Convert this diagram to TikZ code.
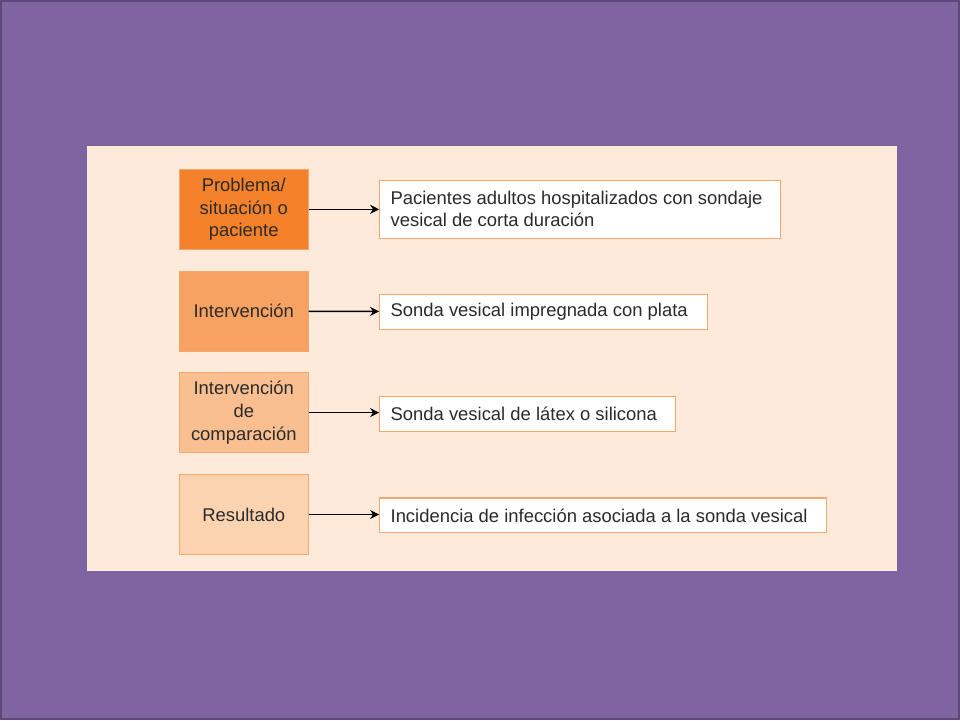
\documentclass[tikz,border=0pt]{standalone}
\usepackage{fontspec}
\setmainfont{Liberation Sans}
\usetikzlibrary{arrows.meta}
\definecolor{fondo}{HTML}{8064A2}
\definecolor{marco}{HTML}{5E4A7A}
\definecolor{panel}{HTML}{FDEADA}
\definecolor{naranjaA}{HTML}{F5822A}
\definecolor{naranjaB}{HTML}{F7A262}
\definecolor{naranjaC}{HTML}{F9BF90}
\definecolor{naranjaD}{HTML}{FBD3B1}
\definecolor{borde}{HTML}{F6A86C}
\definecolor{texto}{HTML}{2B2B2B}
\begin{document}
\begin{tikzpicture}[x=0.02cm, y=-0.02cm,
    campo/.style={rectangle, draw=borde, line width=0.6pt, minimum width=2.58cm, minimum height=1.6cm, align=center, text=texto, font=\fontsize{10.5}{13}\selectfont},
    dato/.style={rectangle, draw=borde, fill=white, line width=0.6pt, anchor=west, inner xsep=0.22cm, align=flush left, text=texto, font=\fontsize{10.5}{12.5}\selectfont},
    arrow/.style={->, >={Stealth[length=1.8mm, width=1.8mm]}, line width=0.8pt}
]
    % Fondo
    \fill[fondo] (0,0) rectangle (960,720);
    \draw[marco, line width=1.2pt] (0.5,0.5) rectangle (959.5,719.5);
    \fill[panel] (87,146) rectangle (897,571);

    % Categorias
    \node[campo, fill=naranjaA] (problema) at (243.5,209) {Problema/\\situación o\\paciente};
    \node[campo, fill=naranjaB] (intervencion) at (243.5,311) {Intervención};
    \node[campo, fill=naranjaC] (comparacion) at (243.5,412.5) {Intervención\\de\\comparación};
    \node[campo, fill=naranjaD] (resultado) at (243.5,514.5) {Resultado};

    % Contenidos
    \node[dato, minimum height=1.16cm, text width=7.58cm] (pacientes) at (379,209) {Pacientes adultos hospitalizados con sondaje\\vesical de corta duración};
    \node[dato, minimum height=0.7cm, text width=6.12cm] (plata) at (379,311.5) {Sonda vesical impregnada con plata};
    \node[dato, minimum height=0.7cm, text width=5.48cm] (latex) at (379,413.5) {Sonda vesical de látex o silicona};
    \node[dato, minimum height=0.7cm, text width=8.5cm] (incidencia) at (379,515.5) {Incidencia de infección asociada a la sonda vesical};

    % Flechas
    \draw[arrow] (problema) -- (pacientes);
    \draw[arrow] (intervencion) -- (plata);
    \draw[arrow] (comparacion) -- (comparacion -| latex.west);
    \draw[arrow] (resultado) -- (resultado -| incidencia.west);
\end{tikzpicture}
\end{document}
